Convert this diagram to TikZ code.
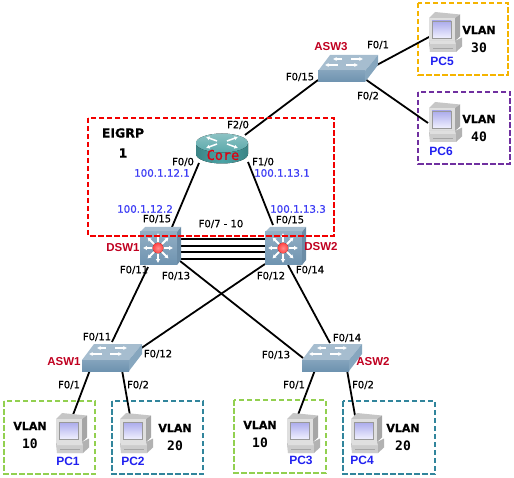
\documentclass[tikz,border=0pt]{standalone}
\usepackage{fontspec}
\setmainfont{DejaVu Sans}[RawFeature={embolden=0.5}]
\newfontfamily\boldlab{Liberation Sans}[BoldFont={Liberation Sans Bold}]
\newfontfamily\monolab{DejaVu Sans Mono}
\newfontfamily\corefnt{DejaVu Sans Mono}[RawFeature={embolden=0.7}]
\usetikzlibrary{arrows.meta}
\definecolor{swtop}{HTML}{A6BDCF}
\definecolor{swfront}{HTML}{6E93B0}
\definecolor{swside}{HTML}{86A6BE}
\definecolor{swedge}{HTML}{6B8CA6}
\definecolor{rttop}{HTML}{5AA8AA}
\definecolor{rtside}{HTML}{4AA4A6}
\definecolor{nred}{HTML}{C00020}
\definecolor{nblue}{HTML}{2020F0}
\definecolor{ipblue}{HTML}{3C3CF4}
\definecolor{corered}{HTML}{E00010}
\definecolor{boxorange}{HTML}{F5B400}
\definecolor{boxpurple}{HTML}{7030A0}
\definecolor{boxgreen}{HTML}{92D050}
\definecolor{boxteal}{HTML}{31859C}
\tikzset{
  port/.style={font=\fontsize{10}{12}\selectfont,text=black,inner sep=0pt},
  iplab/.style={font=\fontsize{10.3}{12}\selectfont,text=ipblue,inner sep=0pt},
  devname/.style={font=\boldlab\bfseries\fontsize{11.5}{13}\selectfont,text=nred,inner sep=0pt},
  pcname/.style={font=\boldlab\bfseries\fontsize{12}{14}\selectfont,text=nblue,inner sep=0pt},
  vlanlab/.style={font=\bfseries\fontsize{11}{13}\selectfont,text=black,inner sep=0pt},
  vlannum/.style={font=\monolab\bfseries\fontsize{13}{15}\selectfont,text=black,inner sep=0pt},
  biglab/.style={font=\bfseries\fontsize{12.5}{14}\selectfont,text=black,inner sep=0pt},
  corelab/.style={font=\corefnt\fontsize{13.5}{15}\selectfont,text=corered,inner sep=0pt},
  swbox/.style={inner sep=0pt,minimum width=60pt,minimum height=28pt},
  dsbox/.style={inner sep=0pt,minimum width=41pt,minimum height=38pt},
  rtbox/.style={inner sep=0pt,minimum width=52pt,minimum height=30pt},
  pcbox/.style={inner sep=0pt,minimum width=31pt,minimum height=39pt},
  link/.style={line width=1.8pt,black},
  zone/.style={line width=1.8pt,dash pattern=on 5.5pt off 2.5pt},
  wharrow/.style={line width=1.5pt,white,-{Latex[length=3.6pt,width=4.2pt]}},
  switchicon/.pic={
    \fill[swtop] (-18,-13) -- (30,-13) -- (17,3) -- (-30,3) -- cycle;
    \fill[top color=swfront!85!white,bottom color=swfront] (-30,3) -- (17,3) -- (17,14) -- (-30,14) -- cycle;
    \fill[swside] (30,-13) -- (30,-3) -- (17,14) -- (17,3) -- cycle;
    \draw[wharrow] (-6,-9) -- (-15,-9);
    \draw[wharrow] (3,-9) -- (15,-9);
    \draw[wharrow] (-10,-3) -- (-23,-3);
    \draw[wharrow] (-2,-3) -- (10,-3);
  },
  dswicon/.pic={
    \fill[swtop] (-20,-14) -- (-15,-19) -- (21,-19) -- (17,-14) -- cycle;
    \fill[top color=swfront!75!white,bottom color=swfront] (-20,-14) rectangle (17,19);
    \fill[swedge] (17,-14) -- (21,-19) -- (21,14) -- (17,19) -- cycle;
    \foreach \a in {0,45,...,315}
      \draw[white,line width=1.8pt,-{Latex[length=3.8pt,width=4.5pt]}] (-2,2) -- ++(\a:15);
    \fill[inner color=red!45!white,outer color=red!75!white,shading=radial] (-2,2) circle (5.5);
  },
  routericon/.pic={
    \fill[left color=rtside!80!black,right color=rtside!80!black,middle color=rtside]
      (-26,-6) -- (-26,5) arc[start angle=180,end angle=0,x radius=26,y radius=9.5] -- (26,-6) -- cycle;
    \fill[top color=rttop!70!white,bottom color=rttop] (0,-6) ellipse[x radius=26,y radius=9.5];
    \draw[wharrow] (-5,-8) -- (-16,-12);
    \draw[wharrow] (-5,-5) -- (-16,-1);
    \draw[wharrow] (5,-8) -- (16,-12);
    \draw[wharrow] (5,-5) -- (16,-1);
  },
  pcicon/.pic={
    \fill[gray!45] (-15,-14.5) -- (-9,-20.5) -- (16,-18) -- (11,-14.5) -- cycle;
    \fill[gray!70] (11,-14.5) -- (16,-18) -- (16,4) -- (11,8.5) -- cycle;
    \fill[gray!25] (-15,-14.5) rectangle (11,8.5);
    \fill[top color=blue!30!white!85!gray,bottom color=blue!5!white] (-12,-11.5) rectangle (7,6);
    \draw[gray!80,line width=.7pt] (-12,-11.5) rectangle (7,6);
    \fill[gray!60] (-15,8.5) -- (11,8.5) -- (18,5) -- (18,14) -- (12,19.5) -- (-14,19.5) -- cycle;
    \fill[gray!25] (-15,8.5) -- (11,8.5) -- (12,12) -- (-14,12) -- cycle;
    \fill[gray!40] (-14,12) rectangle (12,19.5);
    \draw[gray!70,line width=.6pt] (-11,15.5) -- (9,15.5);
  }
}
\begin{document}
\begin{tikzpicture}[x=1pt,y=-1pt]
\useasboundingbox (0,0) rectangle (514,478);
% device holders
\node[rtbox] (core) at (222,149) {};
\node[swbox] (asw3) at (348,68) {};
\node[swbox] (asw1) at (112,357) {};
\node[swbox] (asw2) at (332,357) {};
\node[dsbox] (dsw1) at (160,246) {};
\node[dsbox] (dsw2) at (285,246) {};
\node[pcbox] (pc5) at (444,32.5) {};
\node[pcbox] (pc6) at (444,122.5) {};
\node[pcbox] (pc1) at (71,433.5) {};
\node[pcbox] (pc2) at (135,433.5) {};
\node[pcbox] (pc3) at (302,433.5) {};
\node[pcbox] (pc4) at (366,433.5) {};
% zones
\draw[zone,boxorange] (418,3) rectangle (508,75);
\draw[zone,boxpurple] (418,92) rectangle (510,164);
\draw[zone,boxgreen] (4,401) rectangle (95,474);
\draw[zone,boxteal] (112,401) rectangle (203,474);
\draw[zone,boxgreen] (234,400) rectangle (326,473);
\draw[zone,boxteal] (343,401) rectangle (435,474);
% links
\draw[link] ([shift={(23,-14)}]core.center) -- ([shift={(-30,12)}]asw3.center);
\draw[link] ([shift={(-23,14)}]core.center) -- ([shift={(12,-19)}]dsw1.center);
\draw[link] ([shift={(26,13)}]core.center) -- ([shift={(-12,-21)}]dsw2.center);
\draw[link] ([yshift=-13pt]dsw1.center) -- ([yshift=-13pt]dsw2.center);
\draw[link] ([yshift=-6pt]dsw1.center) -- ([yshift=-6pt]dsw2.center);
\draw[link] ([yshift=0pt]dsw1.center) -- ([yshift=0pt]dsw2.center);
\draw[link] ([yshift=7pt]dsw1.center) -- ([yshift=7pt]dsw2.center);
\draw[link] ([shift={(-12,21)}]dsw1.center) -- ([shift={(0,-15)}]asw1.center);
\draw[link] ([shift={(20,15)}]dsw1.center) -- ([shift={(-29,1)}]asw2.center);
\draw[link] ([shift={(-20,18)}]dsw2.center) -- ([shift={(28,-8)}]asw1.center);
\draw[link] ([shift={(3,19)}]dsw2.center) -- ([shift={(-2,-14)}]asw2.center);
\draw[link] ([shift={(27,-2)}]asw3.center) -- ([shift={(-14,4)}]pc5.center);
\draw[link] ([shift={(17,11)}]asw3.center) -- ([shift={(-16,0.5)}]pc6.center);
\draw[link] ([shift={(-22,13)}]asw1.center) -- ([shift={(1,-16)}]pc1.center);
\draw[link] ([shift={(10,13)}]asw1.center) -- ([shift={(-5,-18)}]pc2.center);
\draw[link] ([shift={(-17,13)}]asw2.center) -- ([shift={(-5,-16)}]pc3.center);
\draw[link] ([shift={(15,13)}]asw2.center) -- ([shift={(-11,-18)}]pc4.center);
% icons
\pic at (core) {routericon};
\pic at (asw3) {switchicon};
\pic at (asw1) {switchicon};
\pic at (asw2) {switchicon};
\pic at (dsw1) {dswicon};
\pic at (dsw2) {dswicon};
\foreach \n in {pc1,pc2,pc3,pc4,pc5,pc6} \pic at (\n) {pcicon};
% EIGRP zone goes over the distribution switches
\draw[zone,red!95!black] (88,118) rectangle (334,236);
% texts
\node[corelab] (corename) at (223,155) {Core};
\node[biglab] (eigrp) at (123,133) {EIGRP};
\node[biglab] (eigrpn) at (123,153) {1};
\node[devname] (nasw3) at (331,47) {ASW3};
\node[devname] (ndsw1) at (123,248) {DSW1};
\node[devname] (ndsw2) at (321,247) {DSW2};
\node[devname] (nasw1) at (64,362) {ASW1};
\node[devname] (nasw2) at (373,362) {ASW2};
\node[pcname] (npc1) at (68,461) {PC1};
\node[pcname] (npc2) at (133,461) {PC2};
\node[pcname] (npc3) at (301,460) {PC3};
\node[pcname] (npc4) at (362,460) {PC4};
\node[pcname] (npc5) at (442,61) {PC5};
\node[pcname] (npc6) at (441,151) {PC6};
\node[vlanlab] (v5) at (479,30) {VLAN};
\node[vlannum] (n5) at (479,48) {30};
\node[vlanlab] (v6) at (479,119) {VLAN};
\node[vlannum] (n6) at (479,137) {40};
\node[vlanlab] (v1) at (30,426) {VLAN};
\node[vlannum] (n1) at (30,444) {10};
\node[vlanlab] (v2) at (175,428) {VLAN};
\node[vlannum] (n2) at (175,446) {20};
\node[vlanlab] (v3) at (260,425) {VLAN};
\node[vlannum] (n3) at (260,443) {10};
\node[vlanlab] (v4) at (403,428) {VLAN};
\node[vlannum] (n4) at (403,446) {20};
\node[port] (a1) at (378,45) {F0/1};
\node[port] (a2) at (368,96) {F0/2};
\node[port] (a3) at (300,77) {F0/15};
\node[port] (b1) at (238,125) {F2/0};
\node[port] (b2) at (183,162) {F0/0};
\node[port] (b3) at (263,162) {F1/0};
\node[iplab] (i1) at (162,173) {100.1.12.1};
\node[iplab] (i2) at (282,173) {100.1.13.1};
\node[iplab] (i3) at (145,209) {100.1.12.2};
\node[iplab] (i4) at (298,209) {100.1.13.3};
\node[port] (c1) at (157,219) {F0/15};
\node[port] (c2) at (290,220) {F0/15};
\node[port] (c3) at (221,224) {F0/7 - 10};
\node[port] (c4) at (134,270) {F0/11};
\node[port] (c5) at (176,276) {F0/13};
\node[port] (c6) at (271,276) {F0/12};
\node[port] (c7) at (310,270) {F0/14};
\node[port] (d1) at (97,337) {F0/11};
\node[port] (d2) at (158,354) {F0/12};
\node[port] (d3) at (69,385) {F0/1};
\node[port] (d4) at (138,385) {F0/2};
\node[port] (e1) at (347,338) {F0/14};
\node[port] (e2) at (276,355) {F0/13};
\node[port] (e3) at (294,385) {F0/1};
\node[port] (e4) at (363,385) {F0/2};
\end{tikzpicture}
\end{document}
